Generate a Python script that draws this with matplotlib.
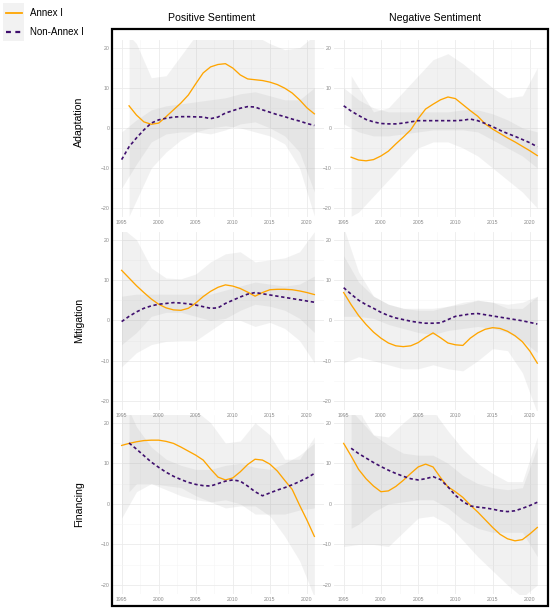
import matplotlib
matplotlib.use('Agg')
import matplotlib.pyplot as plt
from matplotlib.patches import Rectangle

plt.rcParams['font.family'] = ['Liberation Sans', 'DejaVu Sans']

# ---- data ----
col_titles = ['Positive Sentiment', 'Negative Sentiment']
row_titles = ['Adaptation', 'Mitigation', 'Financing']
series_names = ['Annex I', 'Non-Annex I']

yrs95 = list(range(1995, 2022))
yrs96 = list(range(1996, 2022))
band95 = [1995, 1997, 1999, 2001, 2003, 2005, 2007, 2009, 2011, 2013, 2015, 2017, 2019, 2021]
band96 = [1996, 1997, 1999, 2001, 2003, 2005, 2007, 2009, 2011, 2013, 2015, 2017, 2019, 2021]

# Adaptation / positive
adap_pos_annex = [5.5, 3.2, 1.5, 0.9, 1.2, 2.8, 4.5, 6.2, 8.2, 11.0, 13.7, 15.2, 15.8,
                  16.0, 14.9, 13.2, 12.2, 12.0, 11.8, 11.4, 10.8, 9.9, 8.7, 7.0, 5.0, 3.5]
adap_pos_annex_hi = [23, 21, 12.5, 13, 18, 23, 23, 23, 23, 23, 21, 19.5, 20, 23]
adap_pos_annex_lo = [-22, -18, -10, -6, -3, -1, 0, 0.5, 0, -1, -2, -4, -10, -22]
adap_pos_non = [-7.9, -4.7, -2.5, -0.5, 1.2, 2.0, 2.4, 2.7, 2.8, 2.8, 2.75, 2.7, 2.3, 2.7,
                3.7, 4.3, 4.9, 5.3, 5.2, 4.5, 3.9, 3.3, 2.8, 2.2, 1.7, 1.1, 0.6]
adap_pos_non_hi = [-1, 2, 4.5, 5.5, 6, 6.5, 7, 7.5, 8.5, 9, 8, 7, 7, 10]
adap_pos_non_lo = [-15, -9, -3.5, -1.5, -1, -1, -1.5, -0.5, 1, 1.5, 0, -2, -6, -16]

# Adaptation / negative
adap_neg_annex = [-7.3, -8.0, -8.2, -7.9, -7.0, -5.8, -4.0, -2.3, -0.5, 2.3, 4.7, 5.9, 7.0,
                  7.7, 7.3, 5.8, 4.3, 2.9, 1.0, -0.3, -1.4, -2.5, -3.5, -4.6, -5.7, -6.9]
adap_neg_annex_hi = [13, 10, 4, 5, 9, 13, 17, 18.5, 16, 13, 10, 7.5, 8, 15]
adap_neg_annex_lo = [-22, -21, -17, -13, -9, -5, -3.5, -3.5, -5, -7, -10, -13, -16, -20]
adap_neg_non = [5.5, 4.2, 3.1, 2.1, 1.5, 1.1, 1.0, 1.0, 1.2, 1.5, 1.8, 1.8, 1.8, 1.8,
                1.8, 1.8, 1.9, 2.2, 1.8, 1.1, 0.3, -0.6, -1.4, -2.1, -2.9, -3.7, -4.7]
adap_neg_non_hi = [10, 7, 5, 4, 4, 4, 4, 4, 4.5, 4.5, 3.5, 2, 0, -1]
adap_neg_non_lo = [1, -1, -2, -2, -1.5, -1, -0.5, -0.5, -0.5, -1, -3, -5, -7, -10]

# Mitigation / positive
miti_pos_annex = [12.4, 10.5, 8.6, 6.9, 5.3, 4.0, 3.1, 2.6, 2.5, 3.0, 4.3, 5.9, 7.2, 8.2,
                  8.8, 8.5, 7.9, 7.0, 6.0, 6.9, 7.6, 7.7, 7.7, 7.6, 7.3, 6.9, 6.4]
miti_pos_annex_hi = [23, 20, 13, 10.5, 10.3, 11.5, 14.5, 16.5, 17, 14.5, 15, 15.5, 17, 22]
miti_pos_annex_lo = [-11.5, -8, -6, -5.2, -5, -5, -2.5, 0, 0, -1.5, -0.5, -2, -5, -10.5]
miti_pos_non = [-0.3, 1.0, 2.1, 3.0, 3.6, 4.0, 4.2, 4.4, 4.3, 4.1, 3.8, 3.4, 3.0, 3.1,
                4.2, 5.0, 5.8, 6.5, 6.9, 6.6, 6.3, 6.0, 5.7, 5.4, 5.1, 4.8, 4.5]
miti_pos_non_hi = [6, 6.5, 6.5, 6.5, 6.5, 6.5, 6.5, 7.5, 8.5, 9.5, 9, 8.5, 9, 11]
miti_pos_non_lo = [-6, -3, 1, 2, 2, 1, 0, 0.5, 2.5, 4, 3.5, 2.5, 0.5, -3]

# Mitigation / negative
miti_neg_annex = [6.9, 3.9, 1.2, -1.0, -2.9, -4.4, -5.6, -6.3, -6.5, -6.3, -5.5, -4.2, -3.1,
                  -4.3, -5.6, -6.05, -6.2, -4.4, -3.1, -2.2, -1.8, -2.0, -2.7, -3.8, -5.3, -7.6, -10.6]
miti_neg_annex_hi = [23, 12, 6, 4, 3, 3, 3, 3.5, 4, 5, 4.5, 3, 3, 6]
miti_neg_annex_lo = [-10.5, -9, -10, -11, -12, -12, -11, -12, -12.5, -10, -7, -7.5, -13, -23]
miti_neg_non = [8.1, 6.5, 5.0, 3.9, 3.0, 2.0, 1.2, 0.6, 0.2, -0.2, -0.5, -0.7, -0.7, -0.6,
                0.2, 1.0, 1.3, 1.6, 1.7, 1.4, 1.1, 0.8, 0.5, 0.2, -0.1, -0.5, -0.9]
miti_neg_non_hi = [16, 9.5, 6, 4, 3, 2.5, 2.5, 3.5, 4.5, 5, 4.5, 4, 4.5, 6]
miti_neg_non_lo = [1, 1, 0.5, -1, -2, -3, -3.5, -2.5, -2, -1.5, -2, -3, -5, -8]

# Financing / positive
fin_pos_annex = [14.4, 14.9, 15.3, 15.6, 15.7, 15.7, 15.4, 14.9, 14.0, 13.0, 12.0, 10.8, 8.6,
                 6.6, 5.9, 6.4, 7.9, 9.7, 11.0, 10.8, 9.8, 8.1, 5.8, 3.6, -0.3, -4.0, -8.0]
fin_pos_annex_hi = [23, 23, 23, 23, 23, 23, 20, 15, 15.5, 20, 17, 11, 11, 16.5]
fin_pos_annex_lo = [-3.5, 3, 5, 4.5, 4, 2, 0.5, -1, -0.5, -0.5, -3, -8, -14, -23]
fin_pos_non = [15.0, 13.5, 11.9, 10.3, 9.0, 7.8, 6.8, 6.0, 5.3, 4.8, 4.5, 4.4, 5.0,
               5.6, 5.9, 5.6, 4.4, 3.0, 2.0, 2.7, 3.4, 4.0, 4.7, 5.5, 6.4, 7.5]
fin_pos_non_hi = [23, 19, 14, 11, 9.5, 8.5, 8.5, 9.5, 10, 9, 8.5, 10, 12, 15]
fin_pos_non_lo = [3, 5, 5, 3.5, 2, 1, 0.5, 1, 0, -2.5, -2.5, -2.5, -1.5, -1]

# Financing / negative
fin_neg_annex = [14.9, 11.8, 8.5, 6.2, 4.4, 3.0, 3.2, 4.3, 5.8, 7.5, 9.1, 9.8, 9.1, 6.5,
                 4.2, 3.0, 1.6, -0.3, -2.0, -3.9, -5.8, -7.5, -8.6, -9.1, -8.8, -7.4, -5.8]
fin_neg_annex_hi = [23, 23, 17, 16.5, 20, 23, 23, 18, 13.5, 10, 7.5, 5.5, 5.5, 16.5]
fin_neg_annex_lo = [-10.5, -10, -10, -10.5, -7, -3.5, -3, -5, -9, -13, -16.5, -20, -23, -20]
fin_neg_non = [13.7, 12.4, 11.3, 10.2, 9.2, 8.3, 7.5, 6.8, 6.2, 5.9, 6.2, 6.7, 6.0,
               4.2, 2.1, 0.6, -0.5, -0.8, -1.0, -1.3, -1.7, -1.9, -1.7, -1.1, -0.4, 0.4]
fin_neg_non_hi = [23, 21, 17, 14.5, 12.5, 12, 12, 10, 7, 5, 4, 3.5, 4, 14]
fin_neg_non_lo = [-6, -5, -2, 0, 0.5, 1, 1, -1, -4, -6, -7, -7, -7, -13]

# ---- styling ----
orange = '#FFA500'
purple = '#3f0f6e'
band_col = '#999999'

panels = [
    [(yrs96, adap_pos_annex, band96, adap_pos_annex_lo, adap_pos_annex_hi,
      yrs95, adap_pos_non, band95, adap_pos_non_lo, adap_pos_non_hi),
     (yrs96, adap_neg_annex, band96, adap_neg_annex_lo, adap_neg_annex_hi,
      yrs95, adap_neg_non, band95, adap_neg_non_lo, adap_neg_non_hi)],
    [(yrs95, miti_pos_annex, band95, miti_pos_annex_lo, miti_pos_annex_hi,
      yrs95, miti_pos_non, band95, miti_pos_non_lo, miti_pos_non_hi),
     (yrs95, miti_neg_annex, band95, miti_neg_annex_lo, miti_neg_annex_hi,
      yrs95, miti_neg_non, band95, miti_neg_non_lo, miti_neg_non_hi)],
    [(yrs95, fin_pos_annex, band95, fin_pos_annex_lo, fin_pos_annex_hi,
      yrs96, fin_pos_non, band96, fin_pos_non_lo, fin_pos_non_hi),
     (yrs95, fin_neg_annex, band95, fin_neg_annex_lo, fin_neg_annex_hi,
      yrs96, fin_neg_non, band96, fin_neg_non_lo, fin_neg_non_hi)],
]

W, H = 550, 610
fig = plt.figure(figsize=(W / 100, H / 100), dpi=100)


def px_box(left, top, right, bottom):
    return [left / W, 1 - bottom / H, (right - left) / W, (bottom - top) / H]


col_px = [(112, 324), (334, 547)]
row_px = [(40, 217), (232, 410), (415, 594)]

for i, (top, bottom) in enumerate(row_px):
    for j, (left, right) in enumerate(col_px):
        ya, a, ba, alo, ahi, yn, n, bn, nlo, nhi = panels[i][j]
        ax = fig.add_axes(px_box(left, top, right, bottom))
        ax.set_zorder(10 - i)  # keep x labels of upper row above the next row's bands
        ax.patch.set_visible(False)
        ax.set_xlim(1993.7, 2022.3)
        ax.set_ylim(-22.2, 21.9)
        ax.set_xticks([1995, 2000, 2005, 2010, 2015, 2020])
        ax.set_xticks([1997.5, 2002.5, 2007.5, 2012.5, 2017.5], minor=True)
        ax.set_yticks([-20, -10, 0, 10, 20])
        ax.set_yticks([-15, -5, 5, 15], minor=True)
        ax.grid(which='major', color='#ebebeb', lw=0.6)
        ax.grid(which='minor', color='#f5f5f5', lw=0.4)
        ax.set_axisbelow(True)
        ax.tick_params(which='both', length=0, labelsize=3.7, labelcolor='#8a8a8a', pad=2)
        for s in ax.spines.values():
            s.set_visible(False)
        ax.fill_between(ba, alo, ahi, color=band_col, alpha=0.13, lw=0)
        ax.fill_between(bn, nlo, nhi, color=band_col, alpha=0.13, lw=0)
        ax.plot(ya, a, color=orange, lw=0.95, zorder=3)
        ax.plot(yn, n, color=purple, lw=1.2, ls=(0, (2, 1.6)), zorder=4)

# overlay for frame, titles, legend
ov = fig.add_axes([0, 0, 1, 1])
ov.set_zorder(20)
ov.set_xlim(0, W)
ov.set_ylim(H, 0)
ov.axis('off')
ov.patch.set_alpha(0)

ov.add_patch(Rectangle((111.5, 28.5), 436, 577, fill=False, ec='black', lw=1.6))

ov.text(212, 18, col_titles[0], ha='center', va='center', fontsize=7.6)
ov.text(435, 18, col_titles[1], ha='center', va='center', fontsize=7.6)
for name, yc in zip(row_titles, [122, 320, 504]):
    ov.text(79, yc, name, ha='center', va='center', rotation=90, fontsize=7.6)

# legend
ov.add_patch(Rectangle((3, 3), 21, 38, color='#f2f2f2', lw=0))
ov.plot([6, 22], [13, 13], color=orange, lw=1.3)
ov.plot([6, 22], [32, 32], color=purple, lw=1.6, ls=(0, (2.2, 2)))
ov.text(30, 13, series_names[0], va='center', fontsize=7)
ov.text(30, 32, series_names[1], va='center', fontsize=7)

fig.savefig('out.png', dpi=100)
